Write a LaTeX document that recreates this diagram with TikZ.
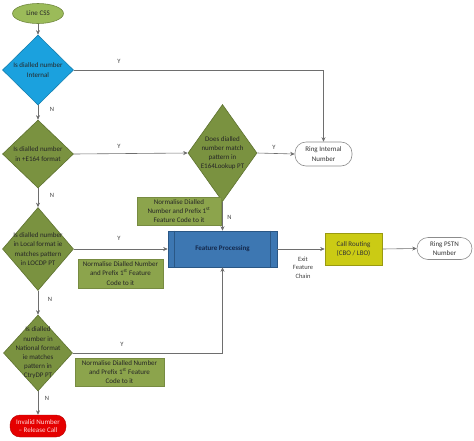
\documentclass[tikz,border=0pt]{standalone}
\usepackage{fontspec}
\setmainfont{Carlito}
\usetikzlibrary{shapes.geometric,arrows.meta}
\definecolor{olive}{HTML}{7A9240}
\definecolor{oliveD}{HTML}{5E7230}
\definecolor{boxg}{HTML}{8CA44C}
\definecolor{lgreen}{HTML}{9BBB59}
\definecolor{lgreenD}{HTML}{71893F}
\definecolor{cyanb}{HTML}{1BA1DE}
\definecolor{cyanbD}{HTML}{1580B0}
\definecolor{fpblue}{HTML}{3D77B2}
\definecolor{fpblueD}{HTML}{2A5785}
\definecolor{navy}{HTML}{14284B}
\definecolor{crY}{HTML}{CBCB14}
\definecolor{crYD}{HTML}{9A9A10}
\definecolor{redb}{HTML}{E50000}
\definecolor{lineg}{HTML}{6E6E6E}
\begin{document}
\begin{tikzpicture}[x=1pt,y=-1pt,
  txt/.style={font=\fontsize{7}{9.2}\selectfont, align=center, inner sep=0pt, text=black!85},
  dia/.style={diamond, aspect=1, inner sep=0pt, line width=0.6pt},
  odia/.style={dia, draw=oliveD, fill=olive},
  nbox/.style={rectangle, fill=boxg, draw=boxg!85!black, line width=0.4pt, inner sep=0pt,
               font=\fontsize{7}{9.2}\selectfont, align=center, text=black!85},
  ring/.style={rectangle, rounded corners=11pt, draw=black!45, fill=white, line width=0.6pt,
               inner sep=0pt, font=\fontsize{7}{9.2}\selectfont, align=center, text=black!80},
  conn/.style={draw=lineg, line width=0.6pt, -{Stealth[length=4.5pt,width=4pt]}},
  lab/.style={font=\fontsize{6.5}{8.5}\selectfont, text=black!75, inner sep=0pt, align=center}]
\useasboundingbox (0,0) rectangle (474,440);

% start
\node[ellipse, draw=lgreenD, fill=lgreen, line width=0.6pt, minimum width=51pt, minimum height=20pt,
      inner sep=0pt, font=\fontsize{7}{9.2}\selectfont, text=black!85] (css) at (38,13.5) {Line CSS};

% diamonds
\node[dia, draw=cyanbD, fill=cyanb, minimum width=71pt, minimum height=70pt] (d1) at (38,70) {};
\node[txt] at (d1) {Is dialled number\\Internal};

\node[odia, minimum width=71pt, minimum height=68pt] (d2) at (38,154) {};
\node[txt] at (d2) {Is dialled number\\in +E164 format};

\node[odia, minimum width=71pt, minimum height=83pt] (d3) at (38,249) {};
\node[txt] at (d3) {Is dialled number\\in Local format ie\\matches pattern\\in LOCDP PT};

\node[odia, minimum width=69pt, minimum height=76pt] (d4) at (38,353) {};
\node[txt] at (d4) {Is dialled\\number in\\National format\\ie matches\\pattern in\\CtryDP PT};

\node[odia, minimum width=69pt, minimum height=97pt] (d5) at (222.5,153) {};
\node[txt] at (d5) {Does dialled\\number match\\pattern in\\E164Lookup PT};

% end / process nodes
\node[rectangle, rounded corners=10pt, draw=redb!80!black, fill=redb, minimum width=56pt, minimum height=22pt,
      inner sep=0pt, font=\fontsize{7}{8.5}\selectfont, align=center, text=red!15] (inv) at (38,426) {Invalid Number\\– Release Call};

\node[ring, minimum width=57pt, minimum height=24pt] (rint) at (323.5,154) {Ring Internal\\Number};
\node[ring, minimum width=55pt, minimum height=22pt] (pstn) at (444.5,248.5) {Ring PSTN\\Number};

\node[rectangle, draw=fpblueD, fill=fpblue, line width=0.6pt, minimum width=109pt, minimum height=36pt,
      inner sep=0pt, font=\fontsize{7}{9}\selectfont\bfseries, text=navy] (fp) at (222.5,249) {Feature Processing};
\draw[fpblueD, line width=0.5pt] ([xshift=7pt]fp.north west) -- ([xshift=7pt]fp.south west)
  ([xshift=-7pt]fp.north east) -- ([xshift=-7pt]fp.south east);

\node[rectangle, draw=crYD, fill=crY, line width=0.6pt, minimum width=57pt, minimum height=32pt,
      inner sep=0pt, font=\fontsize{7}{9.2}\selectfont, align=center, text=black!80] (cr) at (353.5,249) {Call Routing\\(CBO / LBO)};

% normalise boxes
\node[nbox, minimum width=84pt, minimum height=28pt] (n1) at (179,211) {Normalise Dialled\\Number and Prefix 1\textsuperscript{st}\\Feature Code to it};
\node[nbox, minimum width=85pt, minimum height=29pt] (n2) at (120.5,273.5) {Normalise Dialled Number\\and Prefix 1\textsuperscript{st} Feature\\Code to it};
\node[nbox, minimum width=89pt, minimum height=28pt] (n3) at (119.5,372) {Normalise Dialled Number\\and Prefix 1\textsuperscript{st} Feature\\Code to it};

% connectors
\coordinate (c1) at (323.5,70);
\coordinate (c4) at (222.5,353);
\draw[conn] (css) -- (d1);
\draw[conn] (d1.south) -- (d2.north);
\draw[conn] (d1.east) -- (c1) -- (rint.north);
\draw[conn] (d2.east) -- (d5.west);
\draw[conn] (d2.south) -- (d3.north);
\draw[conn] (d5.east) -- (rint.west);
\draw[conn] (d5.south) -- (fp.north);
\draw[conn] (d3.east) -- (fp.west);
\draw[conn] (d3.south) -- (d4.north);
\draw[conn] (d4.east) -- (c4) -- (fp.south);
\draw[conn] (d4.south) -- (inv.north);
\draw[conn] (fp.east) -- (cr.west);
\draw[conn] (cr.east) -- (pstn.west);

% labels
\node[lab] (y1) at (119,61) {Y};
\node[lab] (y2) at (119,146) {Y};
\node[lab] (y3) at (119,238) {Y};
\node[lab] (y4) at (122,344) {Y};
\node[lab] (y5) at (274,147) {Y};
\node[lab] (nl1) at (52,109) {N};
\node[lab] (nl2) at (52,195) {N};
\node[lab] (nl3) at (50,299) {N};
\node[lab] (nl4) at (47,398) {N};
\node[lab] (nl5) at (229.5,217) {N};
\node[lab] (exit) at (303,267.5) {Exit\\Feature\\Chain};
\end{tikzpicture}
\end{document}
